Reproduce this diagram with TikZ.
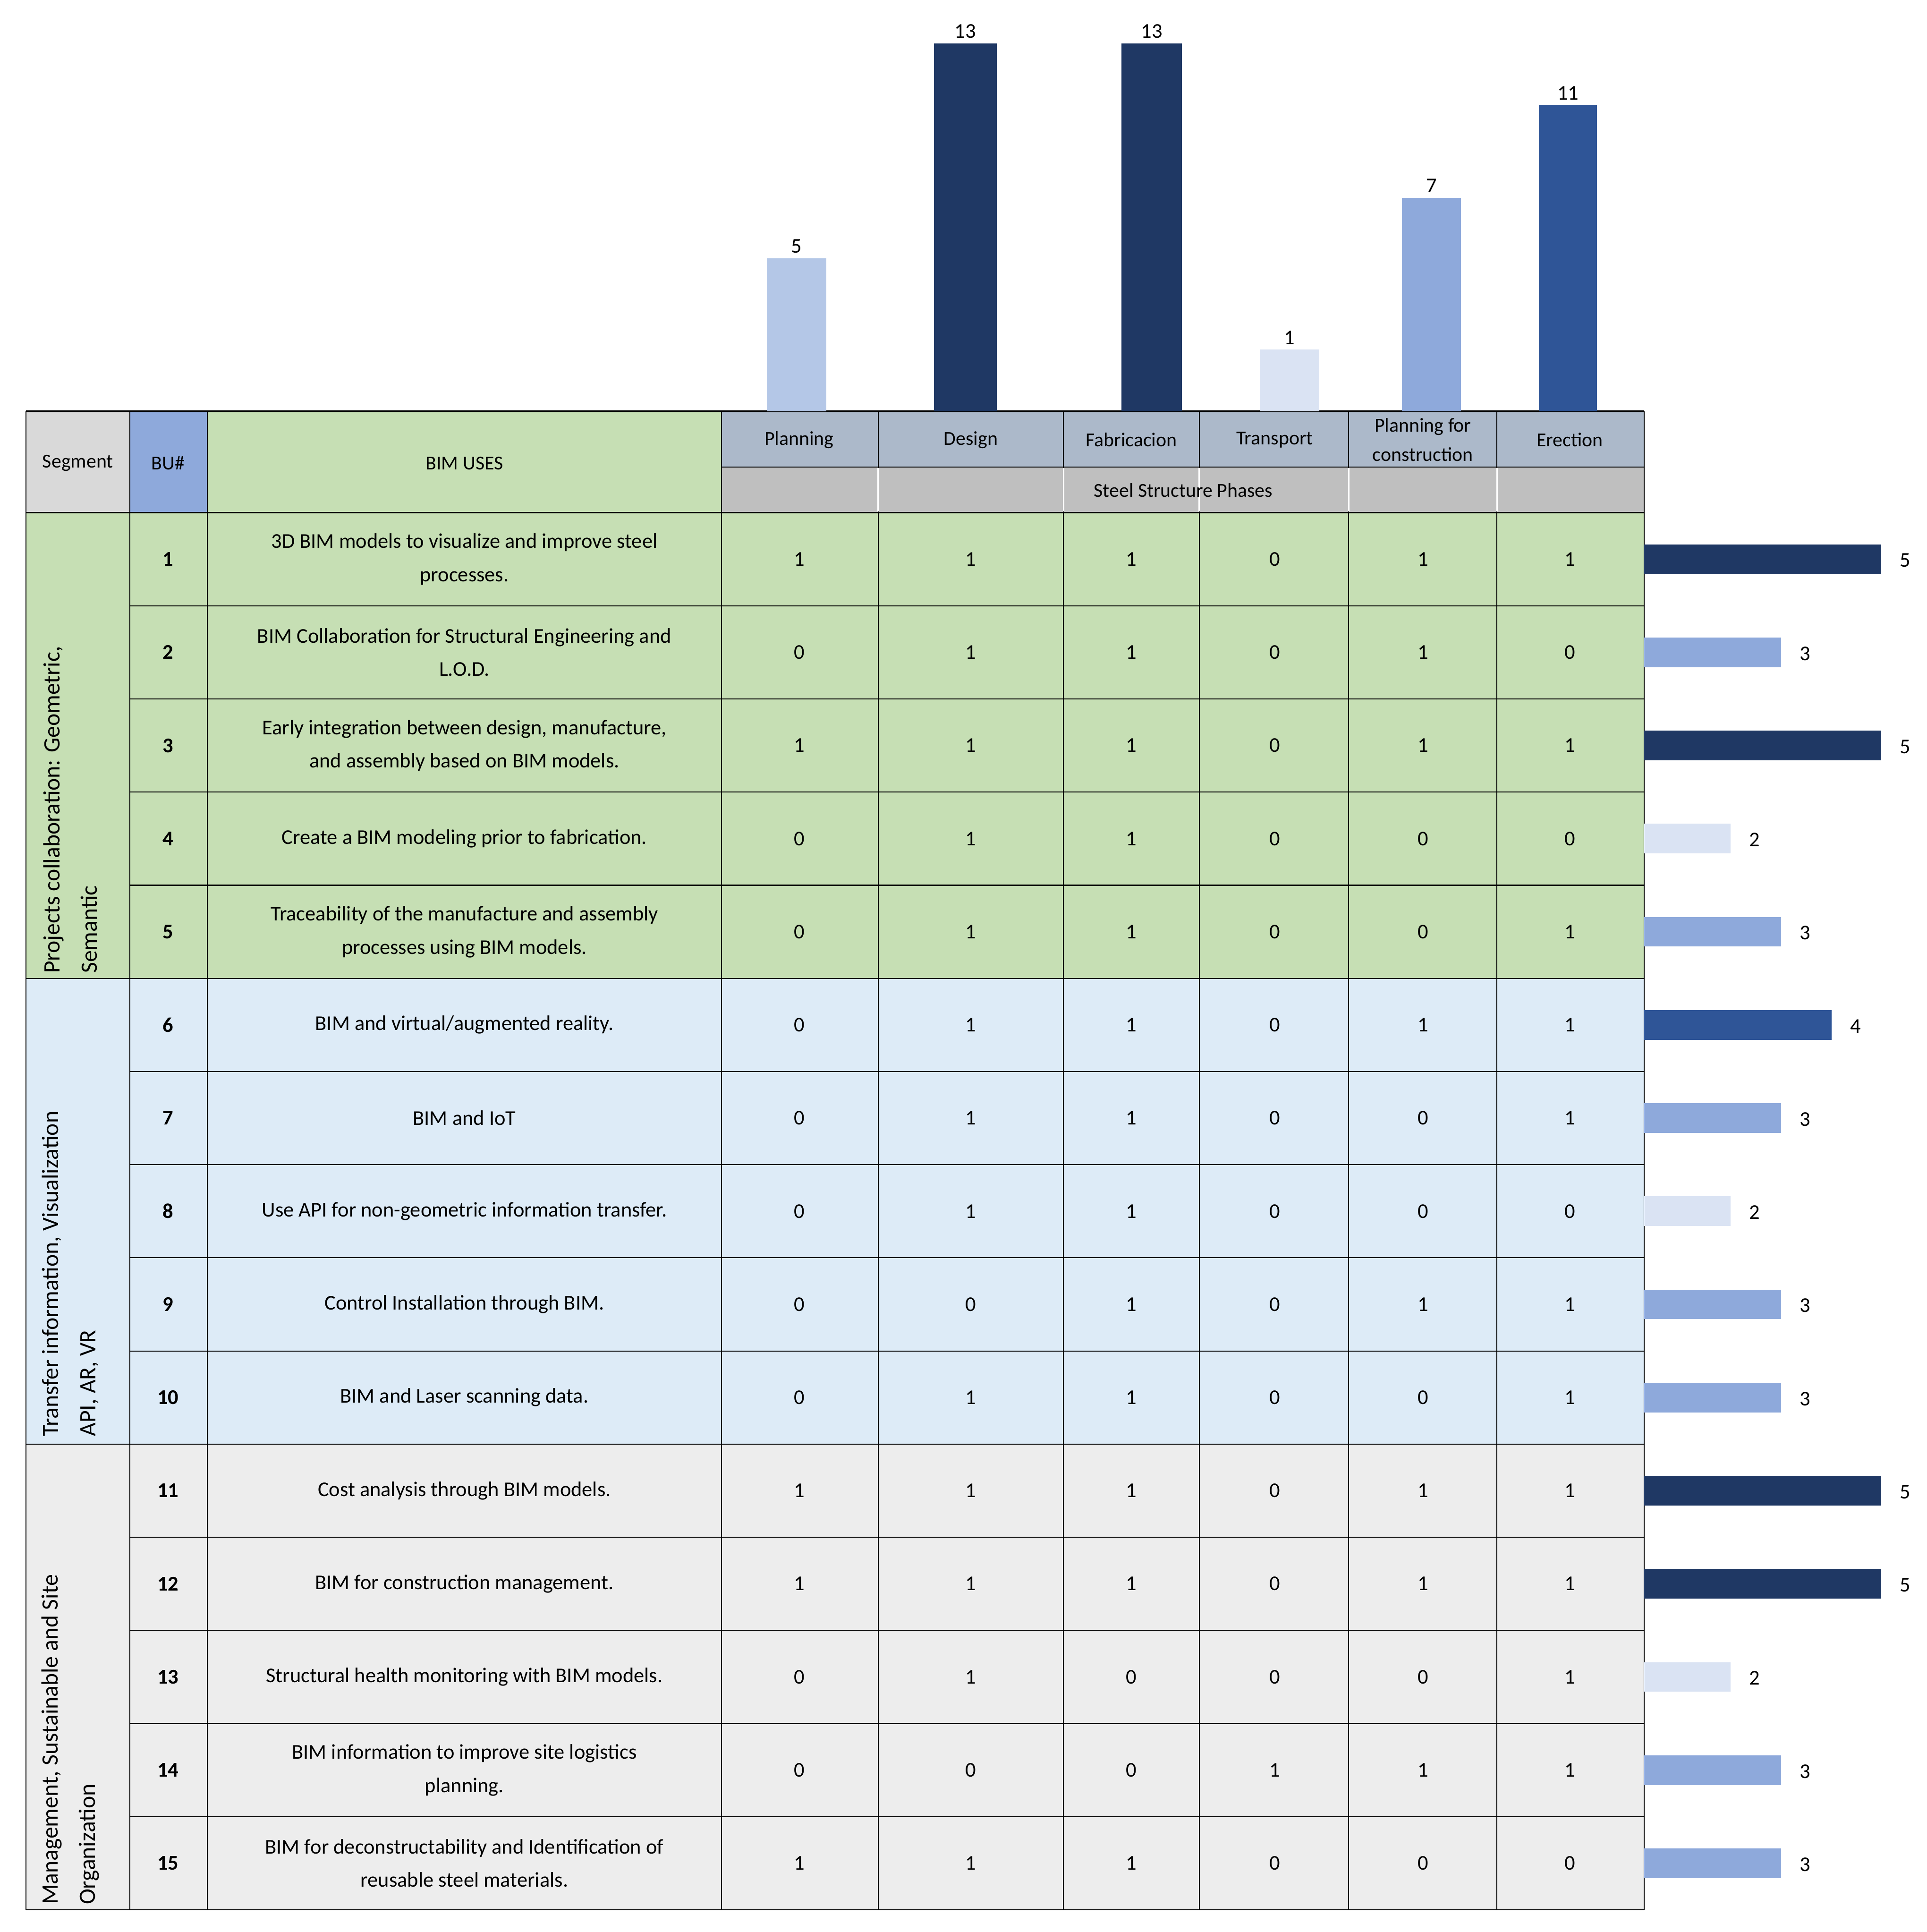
\documentclass[tikz,border=0pt]{standalone}
\usepackage{fontspec}
\setmainfont{Carlito}
\definecolor{cgreen}{HTML}{C6DFB4}
\definecolor{cblue}{HTML}{DDEBF7}
\definecolor{cgray}{HTML}{EDEDED}
\definecolor{csegh}{HTML}{D9D9D9}
\definecolor{cbu}{HTML}{8EA9DB}
\definecolor{cphase}{HTML}{ACB9CA}
\definecolor{csteel}{HTML}{BFBFBF}
\definecolor{bthirteen}{HTML}{1F3864}
\definecolor{beleven}{HTML}{2F5597}
\definecolor{bseven}{HTML}{8EA9DB}
\definecolor{bfive}{HTML}{B4C7E7}
\definecolor{bone}{HTML}{DAE3F3}
\tikzset{
 txt/.style={font=\fontsize{17}{27}\selectfont, align=center, inner sep=0pt},
 grid/.style={draw=black, line width=0.8pt},
 lbl/.style={font=\fontsize{16}{18}\selectfont, inner sep=0pt},
}
\begin{document}
\begin{tikzpicture}[x=1pt,y=-1pt]
\useasboundingbox (0,0) rectangle (1560,1564);
% column edges
\def\xs{{21,105,168,584,711,861,971,1092,1212,1331}}
% header
\fill[csegh] (21,333) rectangle (105,415);
\fill[cbu] (105,333) rectangle (168,415);
\fill[cgreen] (168,333) rectangle (584,415);
\fill[cphase] (584,333) rectangle (1331,378);
\fill[csteel] (584,378) rectangle (1331,415);
% body fills
\fill[cgreen] (21,415) rectangle (1331,792);
\fill[cblue] (21,792) rectangle (1331,1169);
\fill[cgray] (21,1169) rectangle (1331,1546);
\fill[cblue] (105,415) rectangle (168,1546);
\fill[cgreen] (105,415) rectangle (168,792);
\fill[cgray] (105,1169) rectangle (168,1546);
% grid
\foreach \i in {1,...,15} {
  \pgfmathsetmacro{\yy}{415+(\i-1)*75.4}
  \draw[grid] (105,\yy) -- (1331,\yy);
}
\draw[grid] (105,1546) -- (1331,1546);
\draw[grid] (21,792) -- (105,792);
\draw[grid] (21,1169) -- (105,1169);
\foreach \x in {21,105,168,584,711,861,971,1092,1212,1331} \draw[grid] (\x,333) -- (\x,1546);
\draw[grid] (21,1546) -- (105,1546);
\draw[grid] (584,378) -- (1331,378);
\foreach \x in {711,861,971,1092,1212} \draw[grid,white,line width=1.2pt] (\x,379) -- (\x,414);
\draw[grid] (711,333) -- (711,378);
\draw[line width=1.4pt] (21,333) -- (1331,333);
\draw[line width=1.4pt] (21,415) -- (1331,415);
% header texts
\node[lbl] (hseg) at (63,375) {Segment};
\node[lbl] (hbu) at (136,375) {BU\#};
\node[lbl] (huse) at (376,375) {BIM USES};
\node[lbl] (h1) at (647,356) {Planning};
\node[lbl] (h2) at (786,356) {Design};
\node[lbl] (h3) at (916,356) {Fabricacion};
\node[lbl] (h4) at (1032,356) {Transport};
\node[lbl,align=center,font=\fontsize{16}{24}\selectfont] (h5) at (1152,356) {Planning for\\construction};
\node[lbl] (h6) at (1271,356) {Erection};
\node[lbl] (hsteel) at (958,397) {Steel Structure Phases};
% segment labels
\node[txt,rotate=90,anchor=west,align=left,font=\fontsize{19}{30}\selectfont] (s1) at (57,788) {Projects collaboration: Geometric,\\Semantic};
\node[txt,rotate=90,anchor=west,align=left,font=\fontsize{19}{30}\selectfont] (s2) at (57,1163) {Transfer information, Visualization\\API, AR, VR};
\node[txt,rotate=90,anchor=west,align=left,font=\fontsize{19}{30}\selectfont] (s3) at (57,1542) {Management, Sustainable and Site\\Organization};
% rows
\foreach \n/\u/\a/\b/\c/\d/\e/\f/\t in {
 1/{3D BIM models to visualize and improve steel\\processes.}/1/1/1/0/1/1/5,
 2/{BIM Collaboration for Structural Engineering and\\L.O.D.}/0/1/1/0/1/0/3,
 3/{Early integration between design, manufacture,\\and assembly based on BIM models.}/1/1/1/0/1/1/5,
 4/{Create a BIM modeling prior to fabrication.}/0/1/1/0/0/0/2,
 5/{Traceability of the manufacture and assembly\\processes using BIM models.}/0/1/1/0/0/1/3,
 6/{BIM and virtual/augmented reality.}/0/1/1/0/1/1/4,
 7/{BIM and IoT}/0/1/1/0/0/1/3,
 8/{Use API for non-geometric information transfer.}/0/1/1/0/0/0/2,
 9/{Control Installation through BIM.}/0/0/1/0/1/1/3,
 10/{BIM and Laser scanning data.}/0/1/1/0/0/1/3,
 11/{Cost analysis through BIM models.}/1/1/1/0/1/1/5,
 12/{BIM for construction management.}/1/1/1/0/1/1/5,
 13/{Structural health monitoring with BIM models.}/0/1/0/0/0/1/2,
 14/{BIM information to improve site logistics\\planning.}/0/0/0/1/1/1/3,
 15/{BIM for deconstructability and Identification of\\reusable steel materials.}/1/1/1/0/0/0/3} {
  \pgfmathsetmacro{\yy}{415+(\n-0.5)*75.4}
  \node[txt,font=\fontsize{17}{27}\selectfont\bfseries] (bu\n) at (136,\yy) {\n};
  \node[txt] (use\n) at (376,\yy) {\u};
  \node[txt] (v\n a) at (647,\yy) {\a};
  \node[txt] (v\n b) at (786,\yy) {\b};
  \node[txt] (v\n c) at (916,\yy) {\c};
  \node[txt] (v\n d) at (1032,\yy) {\d};
  \node[txt] (v\n e) at (1152,\yy) {\e};
  \node[txt] (v\n f) at (1271,\yy) {\f};
  \ifcase\t\or\def\bc{bone}\def\bl{0}\or\def\bc{bone}\def\bl{70}\or\def\bc{bseven}\def\bl{111}\or\def\bc{beleven}\def\bl{152}\or\def\bc{bthirteen}\def\bl{192}\fi
  \fill[\bc] (1331,\yy-12) rectangle (1331+\bl,\yy+12);
  \node[txt,anchor=west] (t\n) at (1331+\bl+15,\yy+1) {\t};
}
% top bars
\foreach \l/\r/\top/\v/\cc/\nm in {621/669/209/5/bfive/pa, 756/807/35/13/bthirteen/pb, 908/957/35/13/bthirteen/pc, 1020/1068/283/1/bone/pd, 1135/1183/160/7/bseven/pe, 1246/1293/85/11/beleven/pf} {
  \fill[\cc] (\l,\top) rectangle (\r,333);
  \node[txt,anchor=south] (top\nm) at ({(\l+\r)/2},\top-4) {\v};
}
\end{tikzpicture}
\end{document}
